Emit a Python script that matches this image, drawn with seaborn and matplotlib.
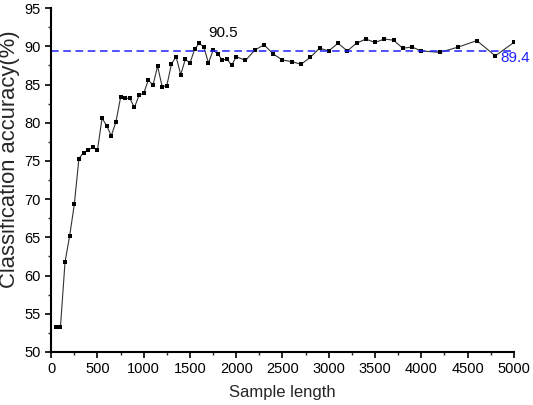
import numpy as np
import pandas as pd
import matplotlib
matplotlib.use("Agg")
import matplotlib.pyplot as plt
from matplotlib.ticker import MultipleLocator
import seaborn as sns

sample_length = [50, 100, 150, 200, 250, 300, 350, 400, 450, 500,
                 550, 600, 650, 700, 750, 800, 850, 900, 950, 1000,
                 1050, 1100, 1150, 1200, 1250, 1300, 1350, 1400, 1450, 1500,
                 1550, 1600, 1650, 1700, 1750, 1800, 1850, 1900, 1950, 2000,
                 2100, 2200, 2300, 2400, 2500, 2600, 2700, 2800, 2900, 3000,
                 3100, 3200, 3300, 3400, 3500, 3600, 3700, 3800, 3900, 4000,
                 4200, 4400, 4600, 4800, 5000]
accuracy = [53.2, 53.2, 61.8, 65.2, 69.3, 75.3, 76.1, 76.4, 76.8, 76.4,
            80.6, 79.6, 78.3, 80.1, 83.3, 83.2, 83.2, 82.0, 83.6, 83.85,
            85.6, 84.9, 87.4, 84.7, 84.85, 87.7, 88.65, 86.3, 88.3, 87.8,
            89.6, 90.4, 89.9, 87.8, 89.5, 89.0, 88.2, 88.35, 87.5, 88.65,
            88.15, 89.5, 90.2, 89.0, 88.2, 88.0, 87.65, 88.55, 89.75, 89.4,
            90.4, 89.4, 90.4, 90.95, 90.5, 90.95, 90.8, 89.75, 89.9, 89.4,
            89.2, 89.9, 90.75, 88.75, 90.5]
mean_accuracy = 89.4
peak_label = "90.5"
mean_label = "89.4"
x_label = "Sample length"
y_label = "Classification accuracy(%)"

df = pd.DataFrame({"x": sample_length, "y": accuracy})

sns.set_style("ticks")
plt.rcParams["font.family"] = ["Liberation Sans", "DejaVu Sans"]

fig = plt.figure(figsize=(5.33, 4.05), dpi=100)
ax = fig.add_axes([0.096, 0.131, 0.868, 0.849])

sns.lineplot(data=df, x="x", y="y", ax=ax, color="#333333", linewidth=0.8,
             marker="s", markersize=2.2, markerfacecolor="black",
             markeredgecolor="black", markeredgewidth=0)
ax.axhline(mean_accuracy, color="#2020ff", linestyle=(0, (5, 3)), linewidth=1.1)

ax.set_xlim(0, 5000)
ax.set_ylim(50, 95)
ax.xaxis.set_major_locator(MultipleLocator(500))
ax.xaxis.set_minor_locator(MultipleLocator(250))
ax.yaxis.set_major_locator(MultipleLocator(5))
ax.yaxis.set_minor_locator(MultipleLocator(2.5))
ax.tick_params(which="major", direction="out", length=4, width=1.2, labelsize=10.5, colors="black")
ax.tick_params(which="minor", direction="out", length=2.5, width=1.0)
for s in ["top", "right"]:
    ax.spines[s].set_visible(False)
for s in ["left", "bottom"]:
    ax.spines[s].set_linewidth(1.5)
    ax.spines[s].set_color("black")

ax.set_xlabel(x_label, fontsize=12, labelpad=6)
ax.set_ylabel(y_label, fontsize=15.8)
ax.yaxis.set_label_coords(-0.068, 0.56)

ax.text(1855, 91.75, peak_label, fontsize=11, ha="center", va="center", color="black")
ax.text(5012, 88.5, mean_label, fontsize=11, ha="center", va="center", color="#2020ff",
        clip_on=False)

fig.savefig("out.png", dpi=100)
